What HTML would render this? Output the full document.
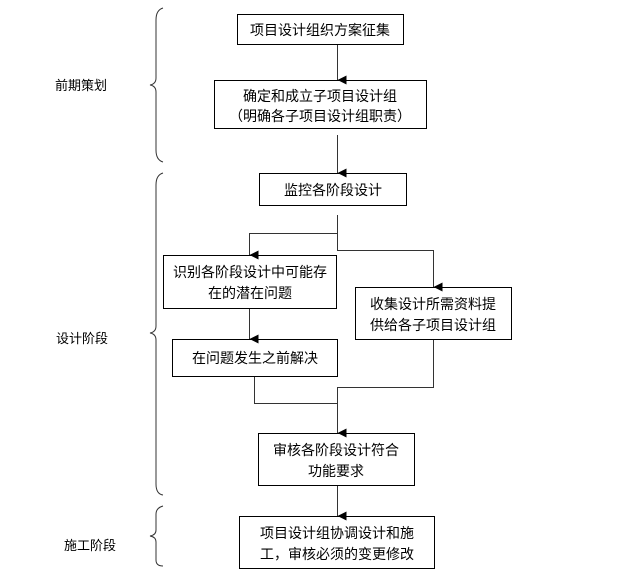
<!DOCTYPE html>
<html><head><meta charset="utf-8"><style>
body{margin:0;background:#fff;width:627px;height:578px;overflow:hidden}
svg{display:block}
text{font-family:"Liberation Sans","Noto Sans CJK SC",sans-serif;font-size:13px;fill:#000}
.b text{font-size:14px}
</style></head><body>
<svg width="627" height="578" viewBox="0 0 627 578">
<defs><marker id="a" markerWidth="9" markerHeight="9" refX="4.5" refY="9" orient="auto" markerUnits="userSpaceOnUse"><path d="M0,0 L9,0 L4.5,9 Z" fill="#000"/></marker></defs>
<g fill="none" stroke="#333" stroke-width="1">
<path d="M163,8 Q156,10 156,20 L156,78 Q156,84 150,85 Q156,86 156,92 L156,150 Q156,160 163,162"/>
<path d="M163,173 Q156,175 156,185 L156,326 Q156,332 150,333 Q156,334 156,340 L156,484 Q156,494 163,495"/>
<path d="M163,506 Q156,508 156,514 L156,530 Q156,535 150,536 Q156,537 156,542 L156,560 Q156,566 163,566"/>
</g>
<g fill="#fff" stroke="#000" stroke-width="1">
<rect x="237.5" y="14.5" width="166" height="30"/>
<rect x="214.5" y="80.5" width="212" height="48"/>
<rect x="259.5" y="173.5" width="147" height="32"/>
<rect x="163.5" y="255.5" width="173" height="53"/>
<rect x="355.5" y="287.5" width="156" height="52"/>
<rect x="172.5" y="339.5" width="165" height="37"/>
<rect x="258.5" y="433.5" width="156" height="52"/>
<rect x="239.5" y="516.5" width="195" height="52"/>
</g>
<g fill="none" stroke="#333" stroke-width="1">
<path d="M337.5,45 V80" marker-end="url(#a)"/>
<path d="M337.5,135 V173" marker-end="url(#a)"/>
<path d="M337.5,215 V250.5 H433.5 V287" marker-end="url(#a)"/>
<path d="M337.5,233.5 H249.5 V255" marker-end="url(#a)"/>
<path d="M249.5,309 V339" marker-end="url(#a)"/>
<path d="M254.5,377 V403.5 H337.5"/>
<path d="M433.5,340 V387.5 H337.5 V433" marker-end="url(#a)"/>
<path d="M337.5,486 V516" marker-end="url(#a)"/>
</g>
<text x="55" y="90">前期策划</text>
<text x="56" y="343">设计阶段</text>
<text x="64" y="550">施工阶段</text>
<g class="b" text-anchor="middle">
<text x="320" y="35">项目设计组织方案征集</text>
<text x="320" y="101">确定和成立子项目设计组</text>
<text x="320" y="121">（明确各子项目设计组职责）</text>
<text x="333" y="195">监控各阶段设计</text>
<text x="250" y="277">识别各阶段设计中可能存</text>
<text x="250" y="298">在的潜在问题</text>
<text x="433" y="309">收集设计所需资料提</text>
<text x="433" y="330">供给各子项目设计组</text>
<text x="255" y="363">在问题发生之前解决</text>
<text x="336" y="455">审核各阶段设计符合</text>
<text x="336" y="476">功能要求</text>
<text x="337" y="538">项目设计组协调设计和施</text>
<text x="337" y="559">工，审核必须的变更修改</text>
</g>
</svg>
</body></html>
